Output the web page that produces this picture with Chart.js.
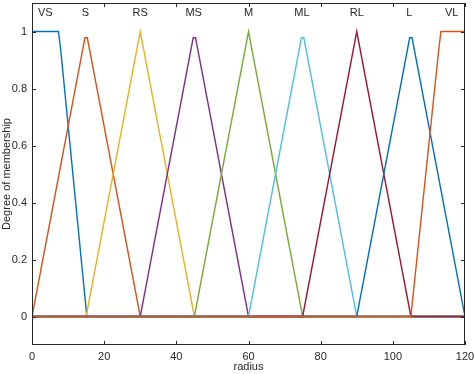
<!DOCTYPE html>
<html>
<head>
<meta charset="utf-8">
<script src="https://cdn.jsdelivr.net/npm/chart.js@4/dist/chart.umd.min.js"></script>
<style>
  html, body { margin: 0; padding: 0; background: #fff; }
  #wrap { width: 474px; height: 374px; }
</style>
</head>
<body>
<div id="wrap"><canvas id="myChart" width="474" height="374"></canvas></div>
<script>
// membership function names and where their labels sit along x
const mfNames = ['VS', 'S', 'RS', 'MS', 'M', 'ML', 'RL', 'L', 'VL']
const labelX = [3.7, 14.8, 30, 44.8, 60, 74.8, 90, 104.6, 116.3]
const labelY = 1.065

// vertices of each membership function
const VS = [[0, 1], [7.33, 1], [8, 0.93], [15.2, 0], [120, 0]]
const S  = [[0, 0], [14.67, 0.978], [15.33, 0.978], [30, 0], [120, 0]]
const RS = [[0, 0], [15, 0], [30, 1], [45, 0], [120, 0]]
const MS = [[0, 0], [30, 0], [44.67, 0.978], [45.33, 0.978], [60, 0], [120, 0]]
const M  = [[0, 0], [45, 0], [60, 1], [75, 0], [120, 0]]
const ML = [[0, 0], [60, 0], [74.67, 0.978], [75.33, 0.978], [90, 0], [120, 0]]
const RL = [[0, 0], [75, 0], [90, 1], [105, 0], [120, 0]]
const L  = [[0, 0], [90, 0], [104.67, 0.978], [105.33, 0.978], [120, 0]]
const VL = [[0, 0], [105, 0], [112.67, 0.93], [113.33, 1], [120, 1]]
const series = [VS, S, RS, MS, M, ML, RL, L, VL]

const colors = ['#0072BD', '#D95319', '#EDB120', '#7E2F8E', '#77AC30', '#4DBEEE', '#A2142F', '#0072BD', '#D95319']

const xTicks = [0, 20, 40, 60, 80, 100, 120]
const yTicks = [0, 0.2, 0.4, 0.6, 0.8, 1]

const axisColor = '#262626'
const font = { family: 'Liberation Sans, Arial, sans-serif', size: 11 }

// matlab style box with inward ticks and the mf labels
const boxPlugin = {
    id: 'box',
    afterDraw(chart) {
        const { ctx, chartArea: a, scales: { x, y } } = chart
        ctx.save()
        ctx.strokeStyle = axisColor
        ctx.lineWidth = 1
        ctx.strokeRect(a.left + 0.5, a.top + 0.5, a.width - 1, a.height - 1)
        ctx.beginPath()
        xTicks.forEach(v => {
            const px = Math.round(x.getPixelForValue(v)) + 0.5
            ctx.moveTo(px, a.bottom); ctx.lineTo(px, a.bottom - 4)
            ctx.moveTo(px, a.top); ctx.lineTo(px, a.top + 4)
        })
        yTicks.forEach(v => {
            const py = Math.round(y.getPixelForValue(v)) + 0.5
            ctx.moveTo(a.left, py); ctx.lineTo(a.left + 4, py)
            ctx.moveTo(a.right, py); ctx.lineTo(a.right - 4, py)
        })
        ctx.stroke()
        ctx.fillStyle = axisColor
        ctx.font = font.size + 'px ' + font.family
        ctx.textAlign = 'center'
        ctx.textBaseline = 'middle'
        mfNames.forEach((n, i) => {
            ctx.fillText(n, x.getPixelForValue(labelX[i]), y.getPixelForValue(labelY))
        })
        ctx.restore()
    }
}

const chart = new Chart(document.getElementById('myChart'), {
    type: 'scatter',
    data: {
        datasets: series.map((s, i) => ({
            label: mfNames[i],
            data: s.map(p => ({ x: p[0], y: p[1] })),
            showLine: true,
            borderColor: colors[i],
            borderWidth: 1.4,
            pointRadius: 0,
            tension: 0,
            order: series.length - 1 - i
        }))
    },
    options: {
        responsive: false,
        animation: false,
        layout: { padding: { top: 3, right: 9, left: 0, bottom: 0 } },
        plugins: {
            legend: { display: false },
            tooltip: { enabled: false }
        },
        scales: {
            x: {
                type: 'linear',
                min: 0,
                max: 120,
                grid: { display: false, drawTicks: false },
                border: { display: false },
                afterBuildTicks: s => { s.ticks = xTicks.map(v => ({ value: v })) },
                afterFit: s => { s.height = 29; s.paddingLeft = 0; s.paddingRight = 0 },
                ticks: { font: font, color: axisColor, padding: 5, maxRotation: 0, callback: v => String(v) },
                title: { display: true, text: 'radius', font: font, color: axisColor, padding: { top: 0, bottom: 0 } }
            },
            y: {
                min: -0.1,
                max: 1.1,
                grid: { display: false, drawTicks: false },
                border: { display: false },
                afterBuildTicks: s => { s.ticks = yTicks.map(v => ({ value: v })) },
                afterFit: s => { s.width = 32; s.paddingTop = 0; s.paddingBottom = 0 },
                ticks: { font: font, color: axisColor, padding: 5, callback: v => String(v) },
                title: { display: true, text: 'Degree of membership', font: font, color: axisColor, padding: { top: 0, bottom: 0 } }
            }
        }
    },
    plugins: [boxPlugin]
})
</script>
</body>
</html>
